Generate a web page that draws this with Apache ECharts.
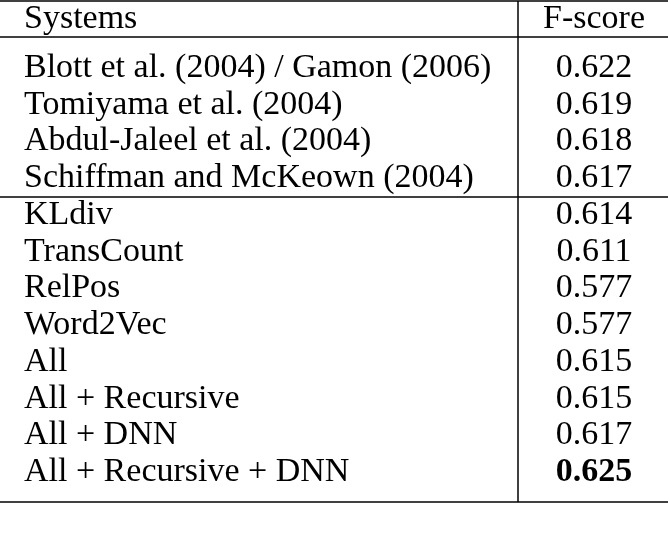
<!DOCTYPE html>
<html><head><meta charset="utf-8">
<script src="https://cdn.jsdelivr.net/npm/echarts@6/dist/echarts.min.js"></script>
<style>html,body{margin:0;padding:0;background:#fff}#c{width:668px;height:548px}</style>
</head><body><div id="c"></div>
<script>
const headers = ["Systems", "F-score"];
const systems = ["Blott et al. (2004) / Gamon (2006)","Tomiyama et al. (2004)","Abdul-Jaleel et al. (2004)","Schiffman and McKeown (2004)","KLdiv","TransCount","RelPos","Word2Vec","All","All + Recursive","All + DNN","All + Recursive + DNN"];
const fscores = ["0.622","0.619","0.618","0.617","0.614","0.611","0.577","0.577","0.615","0.615","0.617","0.625"];
const boldRows = [11];
const chart = echarts.init(document.getElementById('c'));
const font = '"Liberation Serif", "DejaVu Serif", serif';
const g = [];
const y0 = 68, step = 36.75, colX = 518, fx = 594, lx = 24;
const line = (x1,y1,x2,y2,w)=>g.push({type:'line',shape:{x1,y1,x2,y2},style:{stroke:'#000',lineWidth:w||1.5}});
const txt = (t,x,y,align,bold)=>g.push({type:'text',x,y,style:{text:t,fill:'#000',font:(bold?'bold ':'')+'34px '+font,textAlign:align,textVerticalAlign:'middle'}});
line(0,1,668,1);
line(0,37,668,37);
line(0,197,668,197);
line(0,502,668,502);
line(colX,1,colX,502);
txt(headers[0],lx,19,'left');
txt(headers[1],fx,19,'center');
systems.forEach((s,i)=>{const y=y0+i*step;txt(s,lx,y,'left');txt(fscores[i],fx,y,'center',boldRows.includes(i));});
chart.setOption({animation:false,graphic:g});
</script></body></html>
